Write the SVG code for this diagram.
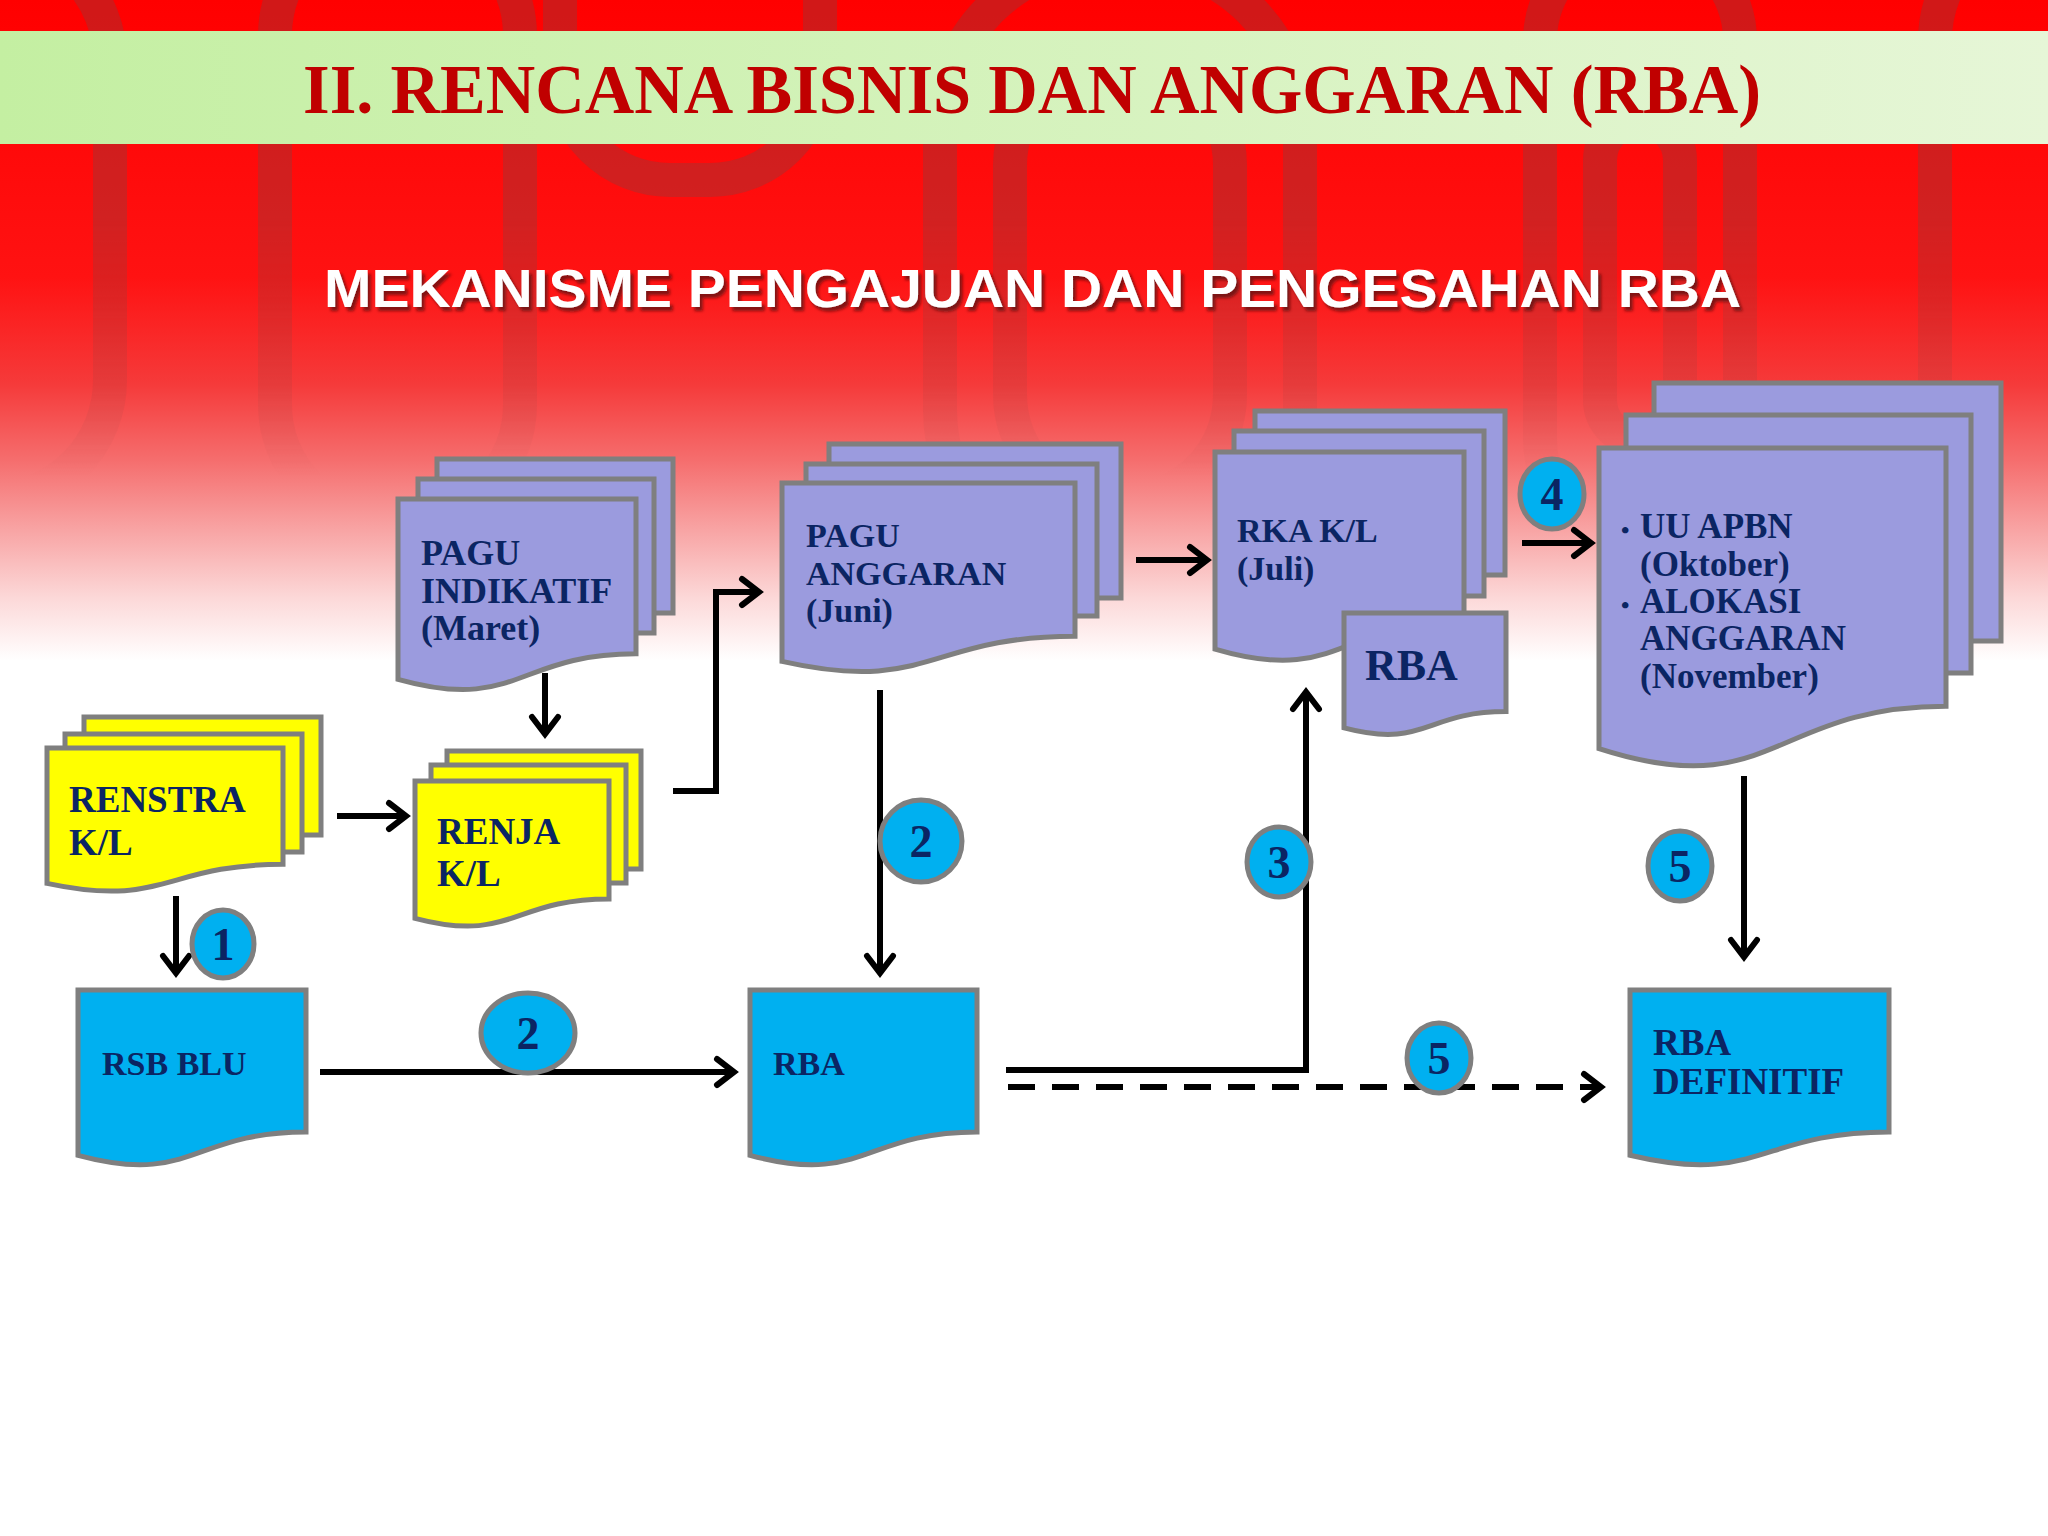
<svg xmlns="http://www.w3.org/2000/svg" width="2048" height="1536" viewBox="0 0 2048 1536">
<defs>
  <linearGradient id="bg" x1="0" y1="0" x2="0" y2="1536" gradientUnits="userSpaceOnUse">
    <stop offset="0" stop-color="#FF0000"/>
    <stop offset="0.18" stop-color="#FF1212"/>
    <stop offset="0.25" stop-color="#F53A3A"/>
    <stop offset="0.30" stop-color="#F56E6E"/>
    <stop offset="0.345" stop-color="#F8A4A4"/>
    <stop offset="0.39" stop-color="#FCD9D9"/>
    <stop offset="0.43" stop-color="#FFFFFF"/>
    <stop offset="1" stop-color="#FFFFFF"/>
  </linearGradient>
  <linearGradient id="band" x1="0" y1="0" x2="1" y2="0">
    <stop offset="0" stop-color="#C4EFA2"/>
    <stop offset="1" stop-color="#E6F6D7"/>
  </linearGradient>
  <linearGradient id="fade" x1="0" y1="0" x2="0" y2="1536" gradientUnits="userSpaceOnUse">
    <stop offset="0" stop-color="#FFFFFF"/>
    <stop offset="0.14" stop-color="#FFFFFF"/>
    <stop offset="0.31" stop-color="#000000"/>
    <stop offset="1" stop-color="#000000"/>
  </linearGradient>
  <mask id="fadeMask" maskUnits="userSpaceOnUse" x="0" y="0" width="2048" height="1536">
    <rect width="2048" height="1536" fill="url(#fade)"/>
  </mask>
  <filter id="shadow" x="-5%" y="-30%" width="110%" height="160%">
    <feDropShadow dx="3" dy="4" stdDeviation="1.5" flood-color="#5a1010" flood-opacity="0.75"/>
  </filter>
  <marker id="arr" markerUnits="userSpaceOnUse" markerWidth="40" markerHeight="40" viewBox="-20 -20 40 40" refX="0" refY="0" orient="auto" overflow="visible">
    <path d="M-17,-13 L0,0 L-17,13" fill="none" stroke="#000" stroke-width="6" stroke-linecap="round" stroke-linejoin="miter"/>
  </marker>
  <style>
    .doc { stroke: #7F7F7F; stroke-width: 5; stroke-linejoin: miter; }
    .purple { fill: #9B9BDE; }
    .yellow { fill: #FFFF00; }
    .blue { fill: #00B0F0; }
    .lbl { font-family: "Liberation Serif", "Times New Roman", serif; font-weight: bold; fill: #0B2563; }
    .conn { fill: none; stroke: #000; stroke-width: 6; marker-end: url(#arr); }
    .badge { fill: #00B0F0; stroke: #7F7F7F; stroke-width: 5; }
    .num { font-family: "Liberation Serif", "Times New Roman", serif; font-weight: bold; font-size: 46px; fill: #0B2563; text-anchor: middle; }
    .ghost { fill: none; stroke: #7a4444; stroke-opacity: 0.35; stroke-width: 34; }
  </style>
</defs>

<!-- background -->
<g id="background">
  <rect width="2048" height="1536" fill="url(#bg)"/>
  <g mask="url(#fadeMask)">
    <rect class="ghost" x="-150" y="-60" width="260" height="560" rx="120"/>
    <rect class="ghost" x="275" y="-80" width="245" height="600" rx="115"/>
    <rect class="ghost" x="560" y="-120" width="260" height="300" rx="110"/>
    <rect class="ghost" x="940" y="-40" width="360" height="620" rx="170"/>
    <rect class="ghost" x="1010" y="60" width="220" height="440" rx="105"/>
    <rect class="ghost" x="1540" y="-60" width="200" height="600" rx="100"/>
    <rect class="ghost" x="1600" y="120" width="80" height="320" rx="40"/>
    <rect class="ghost" x="1935" y="-80" width="260" height="640" rx="120"/>
  </g>
  <rect x="0" y="31" width="2048" height="113" fill="url(#band)"/>
</g>

<g id="title">
  <text x="303" y="113" font-family="Liberation Serif, 'Times New Roman', serif" font-weight="bold" font-size="70" fill="#C00000" textLength="1458" lengthAdjust="spacingAndGlyphs">II. RENCANA BISNIS DAN ANGGARAN (RBA)</text>
</g>
<g id="subtitle" filter="url(#shadow)">
  <text x="324" y="307" font-family="Liberation Sans, Arial, sans-serif" font-weight="bold" font-size="54" fill="#FFFFFF" textLength="1417" lengthAdjust="spacingAndGlyphs">MEKANISME PENGAJUAN DAN PENGESAHAN RBA</text>
</g>

<!-- nodes -->
<g id="node-pagu-indikatif">
  <rect class="doc purple" x="437" y="459" width="236" height="154"/>
  <rect class="doc purple" x="418" y="479" width="236" height="154"/>
  <path class="doc purple" d="M398,499 H636 V653.8 C517,653.8 517,712.7 398,679.3 Z"/>
  <text class="lbl" font-size="36" x="421"><tspan x="421" y="565">PAGU</tspan><tspan x="421" y="603">INDIKATIF</tspan><tspan x="421" y="640">(Maret)</tspan></text>
</g>

<g id="node-renstra">
  <rect class="doc yellow" x="84" y="717" width="237" height="118"/>
  <rect class="doc yellow" x="65" y="734" width="237" height="118"/>
  <path class="doc yellow" d="M47,748 H283 V864.3 C165,864.3 165,908.6 47,883.4 Z"/>
  <text class="lbl" font-size="37" x="69"><tspan x="69" y="812">RENSTRA</tspan><tspan x="69" y="855">K/L</tspan></text>
</g>

<g id="node-renja">
  <rect class="doc yellow" x="447" y="751" width="194" height="118"/>
  <rect class="doc yellow" x="431" y="765" width="195" height="118"/>
  <path class="doc yellow" d="M415,781 H609 V898.9 C512,898.9 512,943.8 415,918.3 Z"/>
  <text class="lbl" font-size="37" x="437"><tspan x="437" y="844">RENJA</tspan><tspan x="437" y="886">K/L</tspan></text>
</g>

<g id="node-pagu-anggaran">
  <rect class="doc purple" x="829" y="444" width="292" height="154"/>
  <rect class="doc purple" x="806" y="464" width="291" height="152"/>
  <path class="doc purple" d="M782,483 H1075 V636.2 C928.5,636.2 928.5,694.5 782,661.4 Z"/>
  <text class="lbl" font-size="34" x="806"><tspan x="806" y="547">PAGU</tspan><tspan x="806" y="585">ANGGARAN</tspan><tspan x="806" y="622">(Juni)</tspan></text>
</g>

<g id="node-rka">
  <rect class="doc purple" x="1255" y="411" width="250" height="164"/>
  <rect class="doc purple" x="1234" y="431" width="250" height="165"/>
  <path class="doc purple" d="M1215,452 H1464 V621.2 C1339.5,621.2 1339.5,685.7 1215,649.1 Z"/>
  <text class="lbl" font-size="34" x="1237"><tspan x="1237" y="542">RKA K/L</tspan><tspan x="1237" y="580">(Juli)</tspan></text>
</g>

<g id="node-rba-sub">
  <path class="doc purple" d="M1344,613 H1506 V711.6 C1425,711.6 1425,749.2 1344,727.9 Z"/>
  <text class="lbl" font-size="44" x="1365" y="680">RBA</text>
</g>

<g id="node-uu-apbn">
  <rect class="doc purple" x="1654" y="383" width="347" height="258"/>
  <rect class="doc purple" x="1626" y="415" width="345" height="258"/>
  <path class="doc purple" d="M1599,448 H1946 V706.2 C1772.5,706.2 1772.5,804.6 1599,748.7 Z"/>
  <text class="lbl" font-size="24" x="1621" y="538">•</text>
  <text class="lbl" font-size="24" x="1621" y="613">•</text>
  <text class="lbl" font-size="35" x="1640"><tspan x="1640" y="538">UU APBN</tspan><tspan x="1640" y="576">(Oktober)</tspan><tspan x="1640" y="613">ALOKASI</tspan><tspan x="1640" y="650">ANGGARAN</tspan><tspan x="1640" y="688">(November)</tspan></text>
</g>

<g id="node-rsb-blu">
  <path class="doc blue" d="M78,990 H306 V1132 C192,1132 192,1186 78,1155.3 Z"/>
  <text class="lbl" font-size="34" x="102" y="1075">RSB BLU</text>
</g>

<g id="node-rba">
  <path class="doc blue" d="M750,990 H977 V1132 C863.5,1132 863.5,1186 750,1155.3 Z"/>
  <text class="lbl" font-size="34" x="773" y="1075">RBA</text>
</g>

<g id="node-rba-definitif">
  <path class="doc blue" d="M1630,990 H1889 V1132 C1759.5,1132 1759.5,1186 1630,1155.3 Z"/>
  <text class="lbl" font-size="37" x="1653"><tspan x="1653" y="1055">RBA</tspan><tspan x="1653" y="1094">DEFINITIF</tspan></text>
</g>

<!-- connectors -->
<g id="connectors">
  <path class="conn" stroke-width="5" d="M545,673 V734"/>
  <path class="conn" d="M337,816 H406"/>
  <path class="conn" d="M673,791 H716 V592 H759"/>
  <path class="conn" d="M1136,560 H1207"/>
  <path class="conn" d="M1522,543 H1591"/>
  <path class="conn" stroke-width="5" d="M176,896 V973"/>
  <path class="conn" d="M320,1072 H734"/>
  <path class="conn" stroke-width="5" d="M880,690 V973"/>
  <path class="conn" d="M1006,1070 H1306 V692"/>
  <path class="conn" stroke-dasharray="27 17" d="M1008,1087 H1601"/>
  <path class="conn" stroke-width="5" d="M1744,776 V957"/>
</g>

<!-- step badges -->
<g id="badge-1"><ellipse class="badge" cx="223" cy="944" rx="31" ry="34"/><text class="num" x="223" y="960">1</text></g>
<g id="badge-2a"><ellipse class="badge" cx="921" cy="841" rx="41" ry="41"/><text class="num" x="921" y="857">2</text></g>
<g id="badge-2b"><ellipse class="badge" cx="528" cy="1033" rx="47" ry="40"/><text class="num" x="528" y="1049">2</text></g>
<g id="badge-3"><ellipse class="badge" cx="1279" cy="862" rx="32" ry="35"/><text class="num" x="1279" y="878">3</text></g>
<g id="badge-4"><ellipse class="badge" cx="1552" cy="494" rx="32" ry="35"/><text class="num" x="1552" y="510">4</text></g>
<g id="badge-5a"><ellipse class="badge" cx="1680" cy="866" rx="32" ry="35"/><text class="num" x="1680" y="882">5</text></g>
<g id="badge-5b"><ellipse class="badge" cx="1439" cy="1058" rx="32" ry="35"/><text class="num" x="1439" y="1074">5</text></g>
</svg>
